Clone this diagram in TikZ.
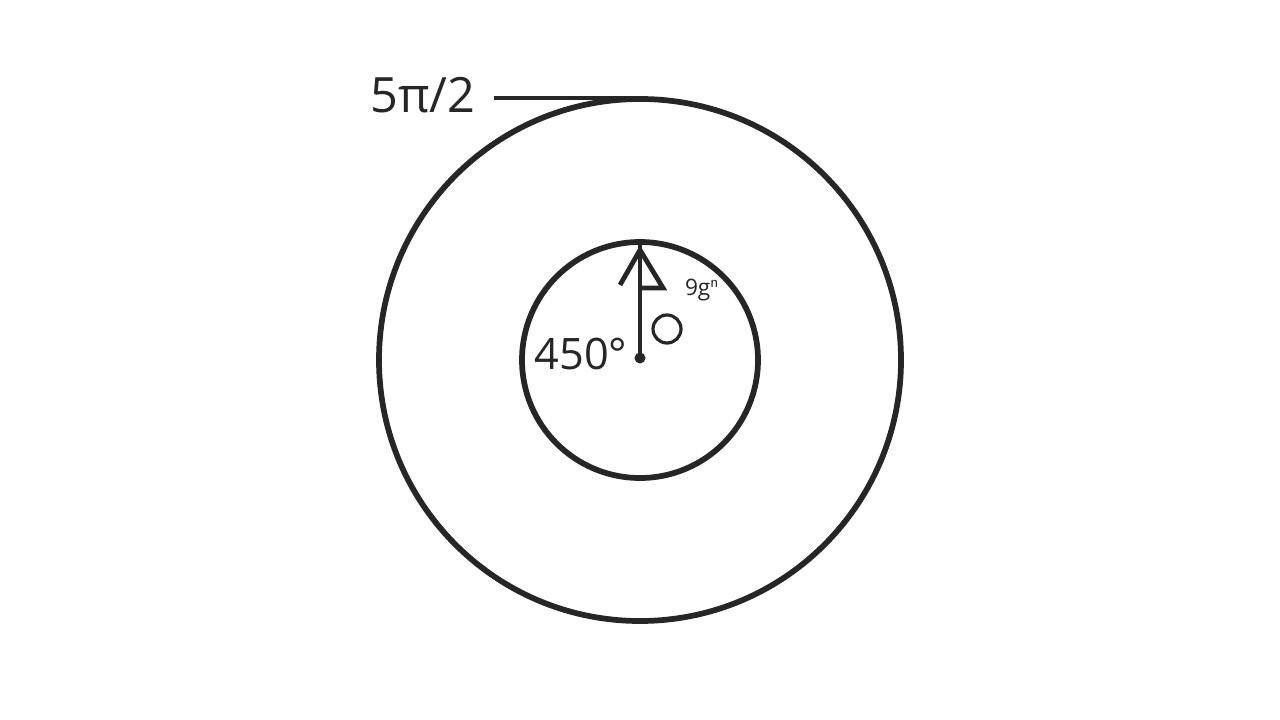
\documentclass[tikz,border=0pt]{standalone}
\usepackage{fontspec}
\setmainfont{Open Sans}
\begin{document}
\begin{tikzpicture}[x=0.75pt,y=-0.75pt,
  ring/.style={draw=black!85, line width=4.3pt},
  lbl/.style={text=black!85, inner sep=0pt}]
\useasboundingbox (0,0) rectangle (1280,720);
\fill[white] (0,0) rectangle (1280,720);
\coordinate (c) at (640,360);
\draw[ring] (c) circle[radius=261];
\draw[ring] (c) circle[radius=118];
\coordinate (tip) at (640,245);
\coordinate (top) at (640,98);
% arrow
\draw[draw=black!85, line width=3.6pt] (640,358) -- (tip);
\draw[draw=black!85, line width=3.6pt, line join=miter] (620,285) -- (640,250) -- (663,288) -- (641,288);
\fill[black!85] (640,358) circle[radius=5.5];
\draw[draw=black!85, line width=2.4pt] (667,329) circle[radius=14];
\node[lbl, font=\fontsize{32.5}{32.5}\selectfont] (deg) at (581,354) {450°};
\node[lbl, font=\fontsize{36.5}{36.5}\selectfont] (pi) at (423,95) {5π/2};
\draw[draw=black!85, line width=2.4pt] (494,98) -- (top);
\node[lbl, font=\fontsize{17}{17}\selectfont] (g) at (702,290) {9g$^{\mathsf{n}}$};
\end{tikzpicture}
\end{document}
